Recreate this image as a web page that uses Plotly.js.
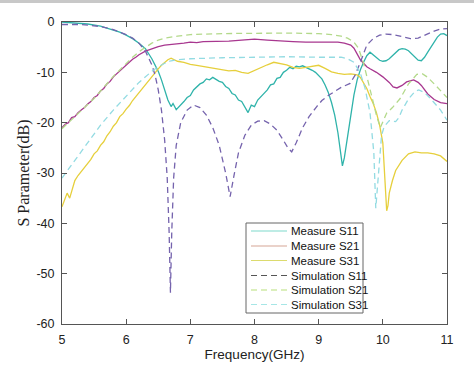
<!DOCTYPE html>
<html>
<head>
<meta charset="utf-8">
<script src="https://cdn.plot.ly/plotly-3.0.1.min.js"></script>
<style>html,body{margin:0;padding:0;background:#fff;}#chart{width:474px;height:381px;}</style>
</head>
<body>
<div id="chart"></div>
<script>
// ---- data ----
const seriesNames = ["Measure S11","Measure S21","Measure S31","Simulation S11","Simulation S21","Simulation S31"];

const measS11_x = [5.0,5.2,5.4,5.6,5.8,5.9,6.0,6.1,6.2,6.3,6.4,6.5,6.55,6.6,6.65,6.7,6.73,6.78,6.85,6.9,6.95,7.0,7.05,7.1,7.15,7.2,7.25,7.3,7.35,7.4,7.45,7.5,7.55,7.6,7.65,7.7,7.75,7.8,7.85,7.9,7.95,8.0,8.05,8.1,8.15,8.2,8.25,8.3,8.35,8.4,8.45,8.5,8.55,8.6,8.65,8.7,8.75,8.8,8.85,8.9,8.95,9.0,9.05,9.1,9.15,9.2,9.25,9.3,9.35,9.37,9.4,9.45,9.5,9.55,9.6,9.65,9.7,9.75,9.8,9.85,9.9,9.95,10.0,10.05,10.1,10.15,10.2,10.25,10.3,10.35,10.4,10.45,10.5,10.55,10.6,10.65,10.7,10.75,10.8,10.85,10.9,10.95,11.0];
const measS11_y = [0,-0.2,-0.4,-0.8,-1.5,-2.0,-2.6,-3.3,-4.2,-5.3,-7.3,-9.8,-11.5,-13.5,-15.5,-16.8,-16.2,-17.4,-16.5,-15.8,-15.0,-14.6,-13.5,-12.8,-12.3,-12.0,-11.3,-11.5,-11.0,-11.4,-11.8,-12.0,-12.8,-13.2,-14.2,-14.5,-15.5,-15.8,-17.0,-18.0,-16.5,-16.8,-15.5,-14.8,-14.0,-13.5,-12.5,-12.3,-11.2,-11.0,-10.0,-9.6,-9.0,-9.3,-8.8,-8.9,-8.7,-9.0,-9.2,-9.6,-10.0,-10.6,-11.3,-12.5,-14.0,-16.0,-18.5,-22.0,-27.0,-28.6,-27.0,-22.5,-18.0,-14.5,-11.5,-9.5,-8.0,-6.7,-6.0,-6.5,-7.0,-7.6,-7.8,-7.7,-7.3,-6.7,-6.0,-5.5,-5.3,-5.4,-5.7,-6.3,-7.0,-7.6,-7.7,-7.0,-6.0,-5.0,-4.0,-3.0,-2.4,-2.3,-2.7];

const measS21_x = [5.0,5.05,5.1,5.15,5.2,5.25,5.3,5.35,5.4,5.45,5.5,5.55,5.6,5.65,5.7,5.75,5.8,5.85,5.9,5.95,6.0,6.05,6.1,6.15,6.2,6.3,6.4,6.5,6.6,6.7,6.8,6.9,7.0,7.1,7.2,7.4,7.6,7.8,8.0,8.2,8.4,8.6,8.8,9.0,9.2,9.3,9.4,9.5,9.55,9.6,9.65,9.7,9.75,9.8,9.9,10.0,10.1,10.16,10.22,10.3,10.37,10.48,10.55,10.6,10.7,10.8,10.9,11.0];
const measS21_y = [-21.0,-20.3,-20.0,-19.0,-18.8,-18.0,-17.5,-17.0,-16.3,-15.8,-15.0,-14.6,-13.7,-13.2,-12.3,-11.8,-10.9,-10.3,-9.6,-9.0,-8.4,-8.0,-7.4,-7.0,-6.5,-5.8,-5.3,-4.9,-4.6,-4.5,-4.3,-4.2,-4.0,-4.1,-3.9,-3.9,-3.8,-3.6,-3.4,-3.6,-3.8,-3.9,-4.0,-4.0,-4.0,-4.0,-4.2,-4.6,-5.2,-6.5,-7.5,-8.2,-8.9,-9.3,-10.0,-10.9,-12.0,-12.9,-13.1,-12.6,-11.9,-11.5,-12.0,-12.6,-14.3,-15.4,-16.0,-16.2];

const measS31_x = [5.0,5.05,5.08,5.12,5.17,5.2,5.25,5.3,5.35,5.4,5.45,5.5,5.55,5.6,5.65,5.7,5.75,5.8,5.85,5.9,5.95,6.0,6.05,6.1,6.15,6.2,6.25,6.3,6.35,6.4,6.45,6.5,6.55,6.6,6.65,6.7,6.75,6.8,6.9,7.0,7.1,7.2,7.3,7.4,7.5,7.6,7.7,7.8,7.9,8.0,8.1,8.2,8.3,8.4,8.5,8.6,8.7,8.8,8.9,9.0,9.1,9.2,9.3,9.4,9.5,9.6,9.65,9.7,9.75,9.8,9.85,9.9,9.95,10.0,10.03,10.06,10.08,10.1,10.15,10.2,10.3,10.4,10.5,10.6,10.7,10.8,10.9,11.0];
const measS31_y = [-36.7,-35.0,-34.0,-35.0,-33.0,-31.5,-30.5,-29.7,-29.0,-28.0,-27.3,-26.2,-25.6,-24.5,-23.8,-22.6,-21.8,-20.7,-20.0,-18.8,-18.2,-17.3,-16.6,-15.6,-14.8,-14.0,-13.2,-12.4,-11.5,-10.8,-10.0,-9.3,-8.6,-8.0,-7.5,-7.2,-7.5,-7.8,-8.0,-8.4,-8.6,-8.8,-9.0,-9.3,-9.5,-9.7,-9.6,-10.0,-10.2,-9.6,-9.0,-8.5,-8.0,-8.3,-8.5,-9.0,-9.2,-9.0,-8.8,-8.6,-9.2,-9.9,-10.2,-10.4,-10.3,-10.5,-11.0,-12.0,-13.2,-14.8,-16.2,-18.0,-20.5,-24.0,-31.0,-37.5,-36.5,-34.0,-31.5,-29.5,-27.5,-26.2,-25.8,-26.0,-26.0,-26.2,-26.6,-27.7];

const simS11_x = [5.0,5.3,5.6,5.8,6.0,6.1,6.2,6.3,6.4,6.45,6.5,6.55,6.6,6.64,6.67,6.69,6.71,6.74,6.78,6.85,6.95,7.05,7.15,7.25,7.35,7.45,7.55,7.62,7.68,7.75,7.85,7.95,8.05,8.15,8.25,8.35,8.45,8.52,8.58,8.65,8.75,8.85,8.97,9.05,9.15,9.25,9.35,9.49,9.57,9.65,9.75,9.85,9.95,10.05,10.15,10.3,10.43,10.55,10.65,10.8,10.9,11.0];
const simS11_y = [-0.5,-0.5,-0.9,-1.5,-2.5,-3.2,-4.2,-5.8,-8.5,-10.5,-13.5,-17.5,-23.5,-31.0,-42.0,-53.8,-42.0,-31.0,-24.5,-20.0,-17.5,-16.5,-17.0,-18.5,-21.0,-24.5,-30.0,-34.7,-30.5,-26.0,-22.5,-20.5,-19.7,-19.6,-20.3,-21.5,-23.5,-25.0,-25.8,-24.0,-21.0,-18.8,-16.8,-15.6,-14.6,-13.8,-13.0,-12.2,-10.5,-8.0,-4.6,-3.3,-2.6,-2.4,-2.5,-2.9,-3.3,-3.2,-2.6,-1.8,-1.4,-1.3];

const simS21_x = [5.0,5.5,5.8,6.0,6.1,6.2,6.3,6.4,6.5,6.6,6.8,7.0,7.5,8.0,8.5,9.0,9.2,9.35,9.45,9.55,9.62,9.7,9.8,9.9,9.96,10.01,10.06,10.15,10.27,10.4,10.53,10.62,10.7,10.8,10.9,11.0];
const simS21_y = [-21.2,-15.2,-10.8,-8.2,-7.0,-5.9,-5.0,-4.2,-3.6,-3.2,-2.8,-2.5,-2.3,-2.2,-2.2,-2.3,-2.5,-2.8,-3.2,-4.0,-5.2,-8.2,-13.5,-18.5,-21.0,-19.5,-18.1,-17.0,-15.2,-12.3,-10.4,-10.3,-11.0,-12.3,-13.6,-15.0];

const simS31_x = [5.0,5.2,5.4,5.6,5.8,6.0,6.2,6.4,6.5,6.6,6.7,6.8,7.0,7.5,8.0,8.5,9.0,9.2,9.35,9.45,9.55,9.65,9.72,9.8,9.86,9.89,9.94,9.98,10.02,10.1,10.2,10.25,10.3,10.4,10.5,10.56,10.65,10.75,10.9,11.0];
const simS31_y = [-31.0,-27.5,-24.0,-20.5,-17.5,-14.7,-12.0,-9.8,-8.9,-8.2,-7.7,-7.5,-7.3,-7.1,-7.0,-6.9,-7.0,-7.0,-7.0,-7.3,-8.0,-10.2,-13.0,-18.0,-26.0,-37.0,-28.0,-22.5,-20.8,-19.6,-19.8,-19.0,-17.5,-15.3,-13.8,-13.5,-14.0,-15.3,-17.5,-19.5];

const xTickVals = [5,6,7,8,9,10,11];
const yTickVals = [0,-10,-20,-30,-40,-50,-60];

// ---- styling ----
const plotColors = ["#2fb3aa","#a8378f","#e6cf3c","#7563ad","#b3d98a","#93dbe2"];
const legendColors = ["#7fd9cc","#d6a595","#dcdb6e","#555555","#b8e07a","#a6e6e6"];
const dashes = ["solid","solid","solid","6px,4px","6px,4px","6px,4px"];

const xs = [measS11_x,measS21_x,measS31_x,simS11_x,simS21_x,simS31_x];
const ys = [measS11_y,measS21_y,measS31_y,simS11_y,simS21_y,simS31_y];

const traces = seriesNames.map((n,i)=>({
  x: xs[i], y: ys[i], name: n, type: 'scatter', mode: 'lines',
  line: {color: plotColors[i], width: 1.3, dash: dashes[i], shape: 'linear'},
  showlegend: false
}));

// layout geometry (pixels)
const W=474,H=381, L=62, R=447, T=22, B=324;
const px2x = p => (p-L)/(R-L);
const py2y = p => (B-p)/(B-T);

const shapes = [
  {type:'rect', xref:'paper', yref:'paper', x0:px2x(0), x1:px2x(W), y0:py2y(3), y1:py2y(0), fillcolor:'#c8c8c8', line:{width:0}, layer:'below'},
  {type:'rect', xref:'paper', yref:'paper', x0:px2x(246), x1:px2x(363), y0:py2y(313), y1:py2y(223), fillcolor:'#ffffff', line:{color:'#666', width:1}}
];
const annotations = [];
const rowY = [231,246,260.5,275.5,290,304.5];
seriesNames.forEach((n,i)=>{
  shapes.push({type:'line', xref:'paper', yref:'paper', x0:px2x(251), x1:px2x(287), y0:py2y(rowY[i]), y1:py2y(rowY[i]),
    line:{color:legendColors[i], width:1.2, dash:dashes[i]}});
  annotations.push({xref:'paper', yref:'paper', x:px2x(289), y:py2y(rowY[i]), xanchor:'left', yanchor:'middle',
    text:n, showarrow:false, font:{family:'Liberation Sans, Arial, sans-serif', size:11.5, color:'#111'}});
});

const axisCommon = {
  showline:true, linecolor:'#555', linewidth:1, mirror:'ticks',
  ticks:'inside', ticklen:5, tickcolor:'#555', tickwidth:1,
  showgrid:false, zeroline:false, ticklabelstandoff:4,
  tickfont:{family:'Liberation Sans, Arial, sans-serif', size:12.5, color:'#222'}
};

const layout = {
  width:W, height:H,
  margin:{l:L, r:W-R, t:T, b:H-B, pad:0},
  paper_bgcolor:'#fff', plot_bgcolor:'#fff',
  showlegend:false,
  xaxis: Object.assign({}, axisCommon, {
    range:[5,11], tickvals:xTickVals, ticktext:xTickVals.map(String),
    title:{text:'Frequency(GHz)', font:{family:'Liberation Sans, Arial, sans-serif', size:13.5, color:'#222'}, standoff:3}
  }),
  yaxis: Object.assign({}, axisCommon, {
    range:[-60,0], tickvals:yTickVals, ticktext:yTickVals.map(String),
    title:{text:'S Parameter(dB)', font:{family:'Liberation Serif, Times New Roman, serif', size:16, color:'#222'}, standoff:2}
  }),
  shapes: shapes,
  annotations: annotations
};

Plotly.newPlot('chart', traces, layout, {displayModeBar:false, staticPlot:true});
</script>
</body>
</html>
